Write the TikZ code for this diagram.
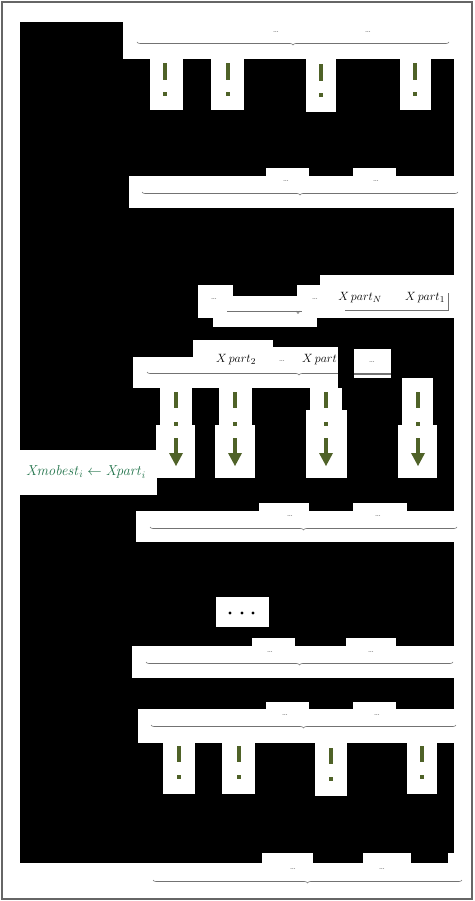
\documentclass[tikz,border=0pt]{standalone}
\usepackage{amsmath,amssymb}
\usetikzlibrary{decorations.pathreplacing}
\definecolor{olivegreen}{RGB}{79,98,40}
\definecolor{tealgreen}{RGB}{33,115,74}

\begin{document}
\begin{tikzpicture}[x=1pt,y=-1pt,
  cover/.style={fill=white},
  redact/.style={fill=black},
  bar/.style={fill=olivegreen},
  dots/.style={font=\small,text=black!75,inner sep=0pt},
  part/.style={font=\fontsize{13}{15}\selectfont,inner sep=0pt},
  curly/.style={draw=black!55,line width=0.6pt,decorate,decoration={brace,mirror,amplitude=3pt}}]

  \useasboundingbox (0,0) rectangle (474,901);
  \draw[black!60,line width=2pt] (2,2) rectangle (472,899);
  \fill[redact] (20,22) rectangle (454,863);

  % top band
  \fill[cover] (123,21) rectangle (455,59);
  \foreach \a/\b/\c in {150/183/110,211/244/110,306/336/112,400/431/110}
    \fill[cover] (\a,58) rectangle (\b,\c);
  \draw[curly] (137,42) -- (449,42);
  \node[dots] (t1) at (276,32) {\dots};
  \node[dots] (t2) at (368,32) {\dots};
  \foreach \x/\y in {165/0,228/0,321/1,415/0} {
    \fill[bar] (\x-1.8,63+\y) rectangle (\x+1.8,80+\y);
    \fill[bar] (\x-1.8,92+\y) rectangle (\x+1.8,96+\y);
  }

  % second band
  \fill[cover] (266,168) rectangle (309,177);
  \fill[cover] (353,168) rectangle (396,177);
  \fill[cover] (129,176) rectangle (455,208);
  \draw[curly] (142,192) -- (458,192);
  \node[dots] (s1) at (286,181) {\dots};
  \node[dots] (s2) at (376,181) {\dots};

  % particles
  \fill[cover] (320,275) rectangle (455,318);
  \fill[cover] (198,285) rectangle (321,318);
  \fill[cover] (213,317) rectangle (317,327);
  \fill[redact] (233,285) rectangle (297,296);
  \draw[black!55,line width=0.6pt] (227,311) -- (302,311);
  \draw[black!55,line width=0.6pt] (296,311) -- (298,313.5) -- (300,311);
  \draw[black!55,line width=0.6pt] (345,310) -- (448,310) -- (448,293);
  \node[dots] (p1) at (214,299) {\dots};
  \node[dots] (p2) at (315,299) {\dots};
  \node[part] (xn) at (360,298) {$X\,part_N$};
  \node[part] (x1) at (425,298) {$X\,part_1$};

  % third band
  \fill[cover] (193,340) rectangle (273,358);
  \fill[cover] (272,347) rectangle (338,358);
  \fill[cover] (133,357) rectangle (343,388);
  \foreach \a/\b/\c/\d/\e/\f in {160/192/156/195/425/478,219/252/215/255/425/478,310/342/306/347/410/478,402/433/398/437/425/478}{
    \fill[cover] (\a,378) rectangle (\b,\e);
    \fill[cover] (\c,\e) rectangle (\d,\f);
  }
  \fill[cover] (354,349) rectangle (391,378);
  \draw[curly] (147,372) -- (451,372);
  \draw[black!55,line width=0.6pt] (354,374) -- (391,374);
  \node[part] (x2) at (236,360) {$X\,part_2$};
  \node[dots] (m1) at (282,361) {\dots};
  \node[part,anchor=west] (xc) at (302,360) {$X\,part$};
  \node[dots] (m2) at (372,362) {\dots};
  \fill[redact] (337.5,347) rectangle (354,388);
  \fill[redact] (391,345) rectangle (454,377.5);
  \foreach \x in {176,235,326,418} {
    \fill[bar] (\x-2.2,392) rectangle (\x+2.2,408);
    \fill[bar] (\x-2.2,421.5) rectangle (\x+2.2,425.5);
    \fill[bar] (\x-2.2,438) rectangle (\x+2.2,453);
    \fill[bar] (\x-7,453) -- (\x+7,453) -- (\x,466) -- cycle;
  }

  % best position
  \fill[cover] (19,450) rectangle (157,495);
  \node[part,font=\fontsize{14.5}{16}\selectfont,text=tealgreen] (best) at (86,472) {$\mathit{Xmobest}_i \leftarrow \mathit{Xpart}_i$};

  % fourth band
  \fill[cover] (259,503) rectangle (309,512);
  \fill[cover] (353,503) rectangle (407,512);
  \fill[cover] (136,511) rectangle (455,542);
  \draw[curly] (150,527) -- (457,527);
  \node[dots] (f1) at (290,516) {\dots};
  \node[dots] (f2) at (378,516) {\dots};

  % more steps
  \fill[cover] (216,597) rectangle (269,627);
  \foreach \x in {230,242,253}
    \fill (\x,613) circle (1.7);

  % fifth band
  \fill[cover] (252,638) rectangle (295,647);
  \fill[cover] (346,638) rectangle (396,647);
  \fill[cover] (132,646) rectangle (455,678);
  \draw[curly] (146,662) -- (453,662);
  \node[dots] (g1) at (270,652) {\dots};
  \node[dots] (g2) at (371,652) {\dots};

  % sixth band
  \fill[cover] (266,702) rectangle (309,710);
  \fill[cover] (353,702) rectangle (396,710);
  \fill[cover] (138,709) rectangle (455,743);
  \foreach \a/\b/\c in {163/195/794,222/255/794,315/347/796,407/437/794}
    \fill[cover] (\a,742) rectangle (\b,\c);
  \draw[curly] (151,725) -- (456,725);
  \node[dots] (h1) at (285,715) {\dots};
  \node[dots] (h2) at (377,715) {\dots};
  \foreach \x/\y in {179/0,239/0,331/2,422/0} {
    \fill[bar] (\x-1.8,746+\y) rectangle (\x+1.8,762+\y);
    \fill[bar] (\x-1.8,775+\y) rectangle (\x+1.8,779+\y);
  }

  % last band
  \fill[cover] (262,853) rectangle (313,864);
  \fill[cover] (363,853) rectangle (411,864);
  \fill[cover] (448,853) rectangle (455,864);
  \draw[curly] (153,880) -- (462,880);
  \node[dots] (b1) at (293,869) {\dots};
  \node[dots] (b2) at (382,869) {\dots};

\end{tikzpicture}
\end{document}
